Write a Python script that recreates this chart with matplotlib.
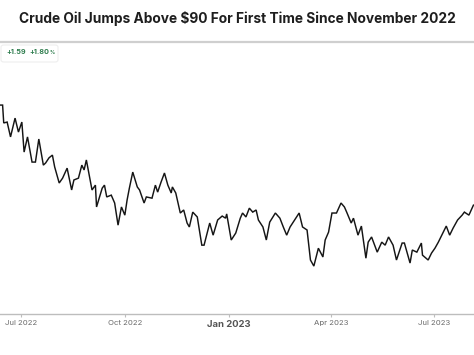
import matplotlib
matplotlib.use("Agg")
import matplotlib.pyplot as plt
import matplotlib.dates as mdates
import pandas as pd
from matplotlib.patches import FancyBboxPatch

dates = ["2022-06-13","2022-06-15","2022-06-16","2022-06-19","2022-06-22","2022-06-26","2022-06-29",
 "2022-07-02","2022-07-04","2022-07-07","2022-07-11","2022-07-14","2022-07-17","2022-07-21","2022-07-23",
 "2022-07-26","2022-07-29","2022-07-31","2022-08-04","2022-08-07","2022-08-11","2022-08-15","2022-08-17",
 "2022-08-21","2022-08-24","2022-08-26","2022-08-28","2022-09-02","2022-09-05","2022-09-06","2022-09-11",
 "2022-09-13","2022-09-15","2022-09-19","2022-09-22","2022-09-25","2022-09-28","2022-10-01","2022-10-03",
 "2022-10-05","2022-10-08","2022-10-12","2022-10-14","2022-10-18","2022-10-20","2022-10-25","2022-10-28",
 "2022-10-30","2022-11-02","2022-11-05","2022-11-08","2022-11-11","2022-11-12","2022-11-15","2022-11-19",
 "2022-11-22","2022-11-25","2022-11-27","2022-11-30","2022-12-04","2022-12-08","2022-12-10","2022-12-15",
 "2022-12-18","2022-12-22","2022-12-26","2022-12-29","2022-12-30","2023-01-03","2023-01-07","2023-01-11",
 "2023-01-13","2023-01-16","2023-01-19","2023-01-22","2023-01-25","2023-01-27","2023-01-31","2023-02-03",
 "2023-02-06","2023-02-11","2023-02-15","2023-02-18","2023-02-21","2023-02-24","2023-02-28","2023-03-04",
 "2023-03-07","2023-03-11","2023-03-14","2023-03-17","2023-03-21","2023-03-25","2023-03-27","2023-03-30",
 "2023-04-02","2023-04-06","2023-04-10","2023-04-13","2023-04-15","2023-04-19","2023-04-21","2023-04-25",
 "2023-04-28","2023-05-02","2023-05-04","2023-05-07","2023-05-12","2023-05-16","2023-05-19","2023-05-22",
 "2023-05-26","2023-05-29","2023-06-03","2023-06-05","2023-06-10","2023-06-12","2023-06-16","2023-06-20",
 "2023-06-21","2023-06-26","2023-06-29","2023-07-02","2023-07-05","2023-07-09","2023-07-12","2023-07-15",
 "2023-07-18","2023-07-22","2023-07-26","2023-07-28","2023-08-01","2023-08-05"]

prices = [119.8,119.8,113.9,114.2,109.3,115.5,110.9,114.2,104.3,109.3,101.0,101.0,108.6,100.0,100.7,
 102.4,103.3,99.4,94.1,95.7,99.0,91.8,95.1,95.7,100.0,98.4,101.7,91.8,93.4,86.2,92.4,
 93.4,89.5,90.1,87.5,80.2,86.2,83.5,88.5,92.4,97.7,92.8,91.8,87.5,89.5,89.1,93.4,
 91.1,94.4,97.4,93.4,90.8,92.8,90.8,84.2,85.2,80.9,79.6,84.5,82.9,73.6,73.6,80.9,
 76.9,81.9,83.2,82.5,83.9,75.3,77.6,82.5,84.2,82.9,85.8,84.5,85.2,81.9,79.6,75.3,
 81.2,84.2,82.5,79.6,76.9,79.6,81.9,84.2,79.6,78.6,68.7,66.7,72.6,69.7,75.3,77.9,
 84.2,84.2,87.5,86.2,84.5,80.9,82.5,76.9,79.9,69.3,74.6,76.3,71.3,74.6,73.6,76.3,
 73.6,68.7,74.3,74.3,67.7,72.0,71.3,74.3,70.3,68.7,71.0,72.6,74.6,77.6,79.9,76.9,
 79.2,81.9,83.5,84.5,83.5,86.8]

tick_dates = ["2022-07-01", "2022-10-01", "2023-01-01", "2023-04-01", "2023-07-01"]
tick_labels = ["Jul 2022", "Oct 2022", "Jan 2023", "Apr 2023", "Jul 2023"]

title = "Crude Oil Jumps Above $90 For First Time Since November 2022"
change_abs = "+1.59"
change_pct = "+1.80"

x = pd.to_datetime(dates)
fig = plt.figure(figsize=(4.74, 3.55), dpi=100)
ax = fig.add_axes([0, (355 - 314) / 355, 1, (314 - 42) / 355])
ax.plot(x, prices, color="#151515", lw=1.05, solid_joinstyle="miter")
ax.set_xlim(x[0] - pd.Timedelta(days=0.3), x[-1] + pd.Timedelta(days=0.5))
ax.set_ylim(50.9, 140.6)

for s in ["left", "right"]:
    ax.spines[s].set_visible(False)
ax.spines["bottom"].set_color("#bdbdbd")
ax.spines["bottom"].set_linewidth(1.0)
ax.spines["top"].set_color("#cfcfcf")
ax.spines["top"].set_linewidth(1.6)
ax.set_yticks([])
ax.set_xticks(pd.to_datetime(tick_dates))
ax.set_xticklabels(tick_labels, fontsize=5.6, color="#6a6a6a", family="Inter")
ax.tick_params(axis="x", length=2.5, width=0.8, color="#bdbdbd", pad=1.8)
lbls = ax.get_xticklabels()
lbls[2].set_fontsize(6.8)
lbls[2].set_fontweight("bold")
lbls[2].set_color("#555555")

fig.text(0.5, 1 - 18 / 355, title, ha="center", va="center", fontsize=9.9,
         fontweight="bold", color="#1e1e1e", family="Inter")

box = FancyBboxPatch((1 / 474, 1 - 62 / 355), 57 / 474, 17 / 355,
                     boxstyle="round,pad=0,rounding_size=0.006", transform=fig.transFigure,
                     facecolor="white", edgecolor="#eeeeee", lw=0.8)
fig.patches.append(box)
green = "#2f7d4e"
fig.text(6 / 474, 1 - 52 / 355, change_abs, ha="left", va="center", fontsize=5.2,
         fontweight="bold", color=green, family="Inter")
t2 = fig.text(29 / 474, 1 - 52 / 355, change_pct, ha="left", va="center", fontsize=5.2,
              fontweight="bold", color=green, family="Inter")
fig.canvas.draw()
bb = t2.get_window_extent(renderer=fig.canvas.get_renderer())
fig.text(bb.x1 / fig.bbox.width + 0.5 / 474, 1 - 52.8 / 355, "%", ha="left", va="center",
         fontsize=3.6, fontweight="bold", color=green, family="Inter")

fig.savefig("out.png", dpi=100, facecolor="white")
